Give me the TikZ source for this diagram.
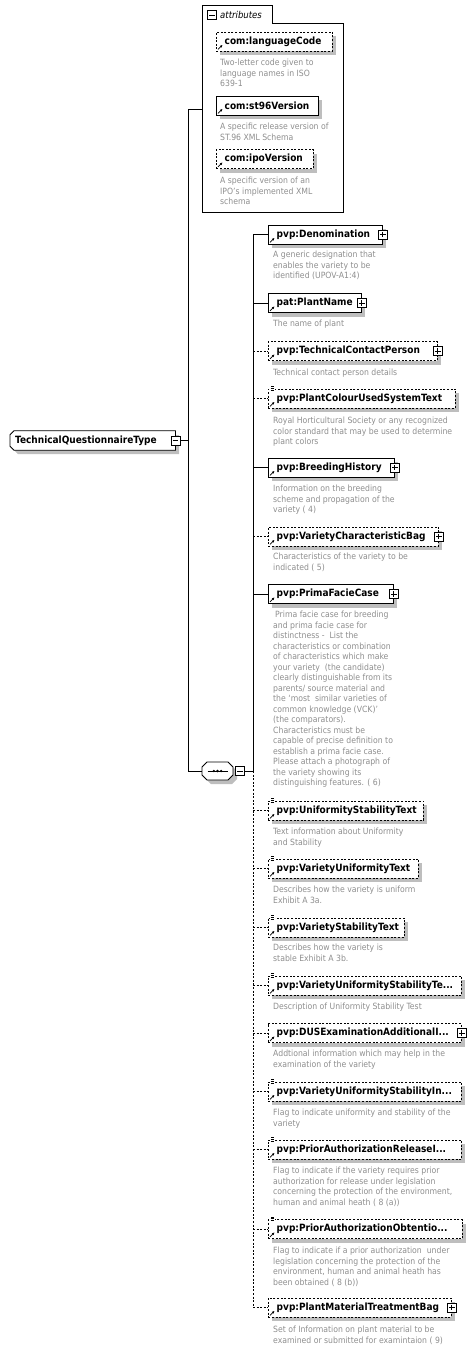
\documentclass[tikz,border=0pt]{standalone}
\usepackage{fontspec}
\setmainfont{DejaVu Sans Condensed}
\usetikzlibrary{shadows,arrows.meta}
\definecolor{desc}{HTML}{8E8E8E}
\definecolor{shad}{HTML}{BEBEBE}
\tikzset{
  ebox/.style={draw=black, line width=0.8pt, fill=white, minimum height=19pt,
    inner sep=0pt, anchor=west,
    general shadow={fill=shad, shadow xshift=4pt, shadow yshift=-4pt}},
  ghost/.style={draw=none, minimum height=19pt, inner sep=0pt, anchor=west},
  opt/.style={dash pattern=on 2pt off 1.6pt},
  lbl/.style={font=\fontsize{10}{12}\selectfont\bfseries, anchor=west, inner sep=0pt},
  dsc/.style={font=\fontsize{8.6}{10.5}\selectfont, text=desc, align=left,
    anchor=north west, inner sep=0pt},
  conn/.style={line width=0.8pt},
  aicon/.style={line width=0.8pt, -{Latex[length=2.6pt,width=2.6pt]}},
  pbox/.style={draw, fill=white, line width=0.8pt, minimum size=9pt, inner sep=0pt,
    path picture={\draw[line width=0.9pt]
      ([xshift=1.8pt]path picture bounding box.west) -- ([xshift=-1.8pt]path picture bounding box.east)
      ([yshift=-1.8pt]path picture bounding box.north) -- ([yshift=1.8pt]path picture bounding box.south);}},
  mbox/.style={draw, fill=white, line width=0.8pt, minimum size=9pt, inner sep=0pt,
    path picture={\draw[line width=0.9pt]
      ([xshift=1.8pt]path picture bounding box.west) -- ([xshift=-1.8pt]path picture bounding box.east);}}
}
\newcommand\xel[6]{%
  \node[ebox,#6,minimum width={#4pt-#2pt}] (#1) at (#2,#3) {};
  \node[lbl] (#1t) at ([xshift=8.5pt]#1.west) {#5};
  \draw[aicon] ([xshift=2pt,yshift=2pt]#1.south west) -- ([xshift=6.5pt,yshift=6.5pt]#1.south west);
}
\newcommand\xplus[1]{\node[pbox] (#1p) at (#1.east) {};}
\newcommand\xsimp[1]{%
  \fill[white] ([xshift=2pt,yshift=3pt]#1.north west) rectangle ([xshift=7pt,yshift=-3.5pt]#1.north west);
  \draw[line width=0.6pt]
    ([xshift=3pt,yshift=2.2pt]#1.north west) -- ++(2.5pt,0pt)
    ([xshift=2.5pt,yshift=0.4pt]#1.north west) -- ++(3.5pt,0pt)
    ([xshift=2.5pt,yshift=-1.4pt]#1.north west) -- ++(3.5pt,0pt);
}
\begin{document}
\begin{tikzpicture}[x=1pt,y=-1pt]
\useasboundingbox (0,0) rectangle (474,1350);
% ---------- attributes group ----------
\draw[line width=0.8pt] (202,5) -- (272,5) -- (272,23) -- (343,23) -- (343,212) -- (202,212) -- cycle;
\node[mbox] (am) at (212,15) {};
\node[font=\fontsize{9.5}{11}\selectfont\itshape, anchor=west, inner sep=0pt] (att) at (220,15) {attributes};
\coordinate (attrL) at (202,109);

\xel{a1}{216}{41.5}{332}{com:languageCode}{opt}
\node[dsc] (a1d) at (220,59) {Two-letter code given to\\language names in ISO\\639-1};
\xel{a2}{216}{105.5}{318}{com:st96Version}{}
\node[dsc] (a2d) at (220,123) {A specific release version of\\ST.96 XML Schema};
\xel{a3}{216}{159}{313}{com:ipoVersion}{opt}
\node[dsc] (a3d) at (220,177) {A specific version of an\\IPO's implemented XML\\schema};

% ---------- root ----------
\node[ghost, minimum width=165pt] (root) at (10,440.5) {};
\fill[shad, shift={(4,4)}] (14,431) -- (175,431) -- (175,450) -- (14,450) -- (10,446) -- (10,435) -- cycle;
\filldraw[fill=white, line width=0.8pt] (root.north west) ++(4pt,0pt) -- (root.north east) -- (root.south east)
  -- ([xshift=4pt]root.south west) -- ([yshift=4pt]root.south west) -- ([yshift=-4pt]root.north west) -- cycle;
\node[lbl] (roott) at (15,440.5) {TechnicalQuestionnaireType};
\node[mbox] (rootm) at (root.east) {};

\coordinate (trunkTop) at (188,109);
\coordinate (trunkBot) at (188,771);
\draw[conn] (rootm.east) -- (rootm.east -| trunkTop);
\draw[conn] (attrL) -- (trunkTop) -- (trunkBot);

% ---------- sequence ----------
\node[ghost, minimum width=31pt, minimum height=18pt, anchor=center] (seq) at (217.5,771) {};
\fill[shad, shift={(4,4)}] (207,762) -- (228,762) -- (233,767) -- (233,775) -- (228,780) -- (207,780) -- (202,775) -- (202,767) -- cycle;
\filldraw[fill=white, line width=0.8pt] (207,762) -- (228,762) -- (233,767) -- (233,775) -- (228,780) -- (207,780) -- (202,775) -- (202,767) -- cycle;
\draw[line width=0.9pt] ([xshift=-10pt]seq.center) -- ([xshift=10pt]seq.center);
\fill ([xshift=-3.6pt]seq.center) circle (1.3pt) (seq.center) circle (1.3pt) ([xshift=3.6pt]seq.center) circle (1.3pt);
\node[mbox] (seqm) at (240,771) {};
\draw[conn] (trunkBot) -- (seq.west);
\coordinate (spine) at (253,771);
\draw[conn] (seqm.east) -- (spine);

% ---------- children ----------
\xel{e1}{268}{234.5}{382}{pvp:Denomination}{}
\xplus{e1}
\node[dsc] (e1d) at (273,251) {A generic designation that\\enables the variety to be\\identified (UPOV-A1:4)};

\xel{e2}{268}{303}{361}{pat:PlantName}{}
\xplus{e2}
\node[dsc] (e2d) at (273,320) {The name of plant};

\xel{e3}{268}{351}{437}{pvp:TechnicalContactPerson}{opt}
\xplus{e3}
\node[dsc] (e3d) at (273,369) {Technical contact person details};

\xel{e4}{268}{398.5}{455}{pvp:PlantColourUsedSystemText}{opt}
\xsimp{e4}
\node[dsc] (e4d) at (273,417) {Royal Horticultural Society or any recognized\\color standard that may be used to determine\\plant colors};

\xel{e5}{268}{467.5}{394}{pvp:BreedingHistory}{}
\xplus{e5}
\node[dsc] (e5d) at (273,485) {Information on the breeding\\scheme and propagation of the\\variety ( 4)};

\xel{e6}{268}{536.5}{438}{pvp:VarietyCharacteristicBag}{opt}
\xplus{e6}
\node[dsc] (e6d) at (273,553) {Characteristics of the variety to be\\indicated ( 5)};

\xel{e7}{268}{594}{393}{pvp:PrimaFacieCase}{}
\xplus{e7}
\node[dsc] (e7d) at (273,611) {\hspace*{2pt}Prima facie case for breeding\\and prima facie case for\\distinctness -\ \ List the\\characteristics or combination\\of characteristics which make\\your variety\ \ (the candidate)\\clearly distinguishable from its\\parents/ source material and\\the `most\ \ similar varieties of\\common knowledge (VCK)'\\(the comparators).\\Characteristics must be\\capable of precise definition to\\establish a prima facie case.\\Please attach a photograph of\\the variety showing its\\distinguishing features. ( 6)};

\xel{e8}{268}{810.5}{423}{pvp:UniformityStabilityText}{opt}
\xsimp{e8}
\node[dsc] (e8d) at (273,828) {Text information about Uniformity\\and Stability};

\xel{e9}{268}{868.5}{418}{pvp:VarietyUniformityText}{opt}
\xsimp{e9}
\node[dsc] (e9d) at (273,886) {Describes how the variety is uniform\\Exhibit A 3a.};

\xel{e10}{268}{927.5}{404}{pvp:VarietyStabilityText}{opt}
\xsimp{e10}
\node[dsc] (e10d) at (273,944) {Describes how the variety is\\stable Exhibit A 3b.};

\xel{e11}{268}{985.5}{461}{pvp:VarietyUniformityStabilityTe...}{opt}
\xsimp{e11}
\node[dsc] (e11d) at (273,1003) {Description of Uniformity Stability Test};

\xel{e12}{268}{1033}{461}{pvp:DUSExaminationAdditionalI...}{opt}
\xplus{e12}
\node[dsc] (e12d) at (273,1050) {Addtional information which may help in the\\examination of the variety};

\xel{e13}{268}{1091.5}{461}{pvp:VarietyUniformityStabilityIn...}{opt}
\xsimp{e13}
\node[dsc] (e13d) at (273,1109) {Flag to indicate uniformity and stability of the\\variety};

\xel{e14}{268}{1149.5}{461}{pvp:PriorAuthorizationReleaseI...}{opt}
\xsimp{e14}
\node[dsc] (e14d) at (273,1167) {Flag to indicate if the variety requires prior\\authorization for release under legislation\\concerning the protection of the environment,\\human and animal heath ( 8 (a))};

\xel{e15}{268}{1229}{462}{pvp:PriorAuthorizationObtentio...}{opt}
\xsimp{e15}
\node[dsc] (e15d) at (273,1247) {Flag to indicate if a prior authorization\ \ under\\legislation concerning the protection of the\\environment, human and animal heath has\\been obtained ( 8 (b))};

\xel{e16}{268}{1307.5}{451}{pvp:PlantMaterialTreatmentBag}{opt}
\xplus{e16}
\node[dsc] (e16d) at (273,1326) {Set of Information on plant material to be\\examined or submitted for examintaion ( 9)};

% ---------- spine and connectors ----------
\draw[conn] (e1.west -| spine) -- (spine);
\draw[conn,opt] (spine) -- (e16.west -| spine);
\foreach \n in {e1,e2,e5,e7} {\draw[conn] (\n.west -| spine) -- (\n.west);}
\foreach \n in {e3,e4,e6,e8,e9,e10,e11,e12,e13,e14,e15,e16} {\draw[conn,opt] (\n.west -| spine) -- (\n.west);}
\end{tikzpicture}
\end{document}
